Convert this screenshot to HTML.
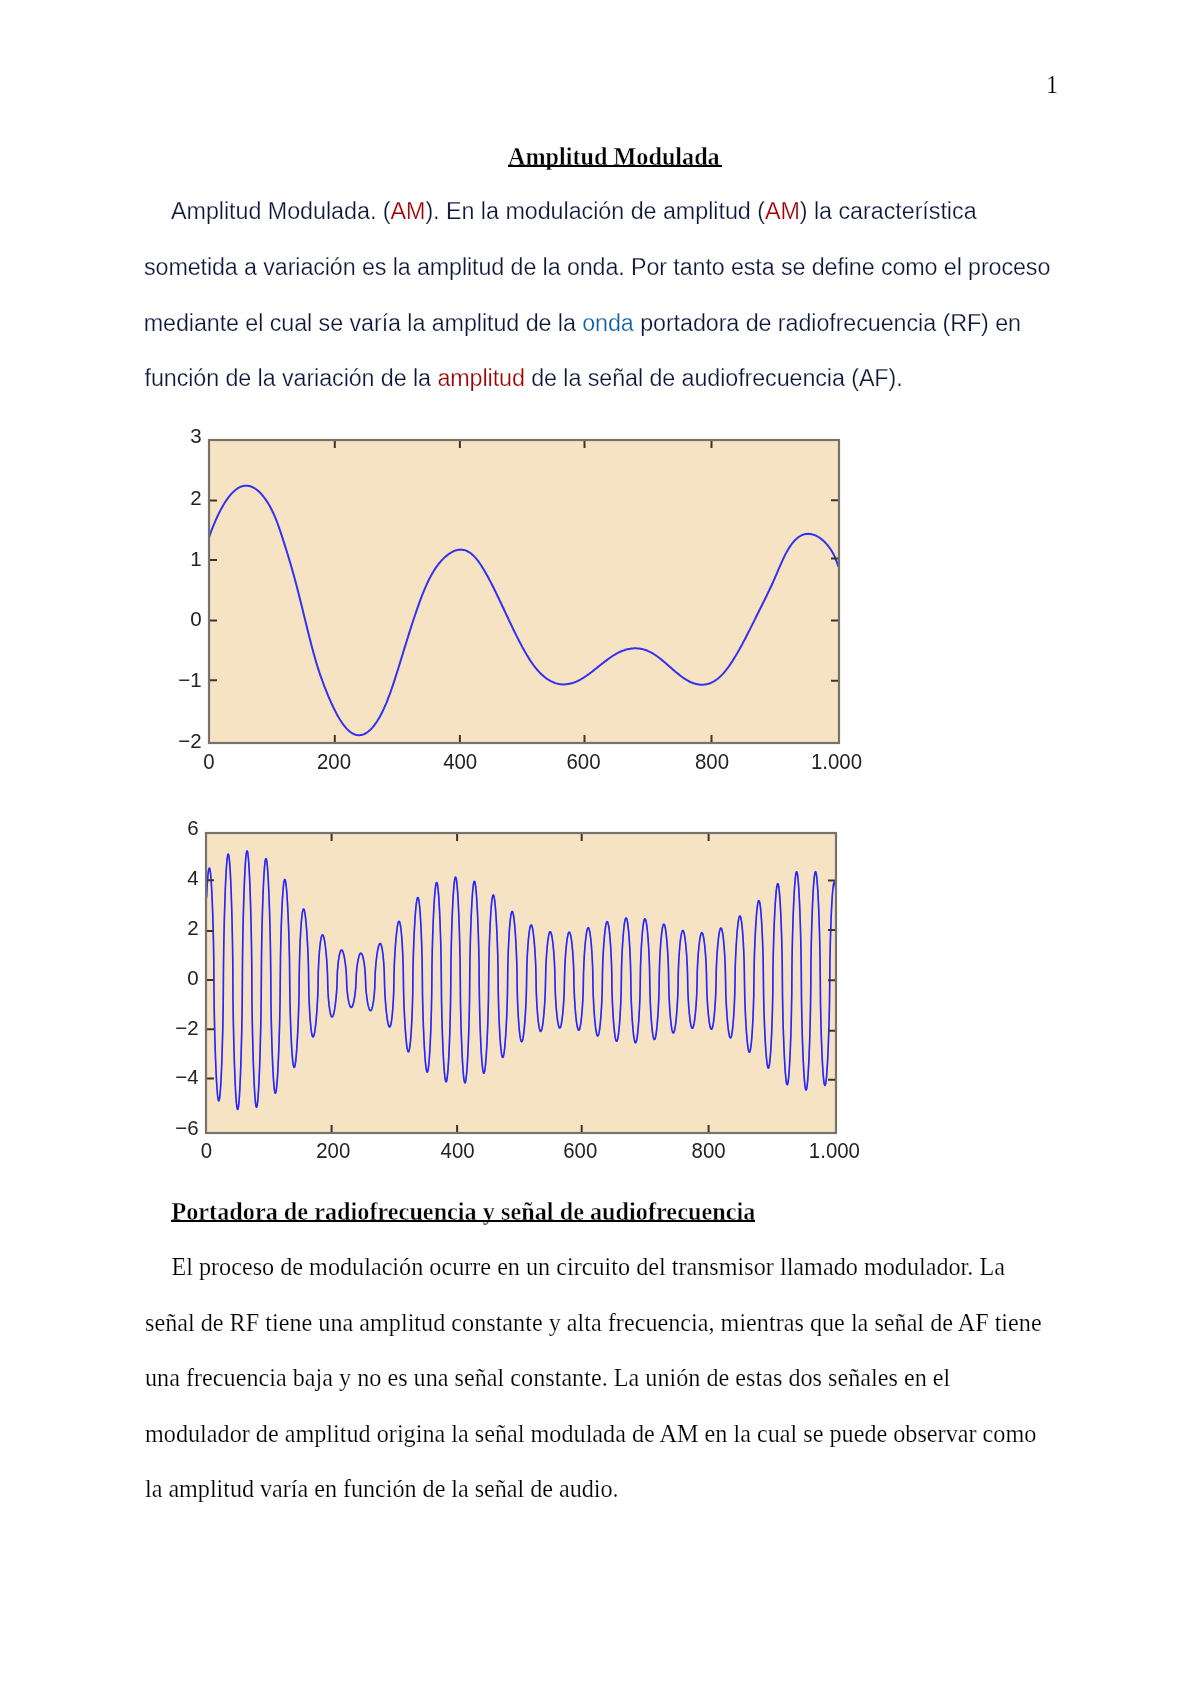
<!DOCTYPE html>
<html lang="es"><head><meta charset="utf-8"><title>Amplitud Modulada</title>
<style>
html,body{margin:0;padding:0;background:#fff;}
body{width:1200px;height:1698px;position:relative;overflow:hidden;}
.ov{position:absolute;left:0;top:0;}
.s,.m,.hd,.tt,.pn{position:absolute;white-space:pre;line-height:30px;}
#pg{position:absolute;left:0;top:0;width:1200px;height:1698px;will-change:transform;}
.s{-webkit-text-stroke:0.25px #fff;font-family:"Liberation Sans",Arial,sans-serif;font-size:23.3px;color:#0c1639;}
.m,.pn{-webkit-text-stroke:0.2px #fff;font-family:"Liberation Serif","Times New Roman",serif;font-size:24.2px;color:#000;}
.hd,.tt{-webkit-text-stroke:0.4px #fff;font-family:"Liberation Serif","Times New Roman",serif;font-size:24.2px;font-weight:bold;color:#000;}
.r{color:#9c0000;}
.b{color:#0e5f9c;}
.ul{position:absolute;background:#000;}
</style></head><body>
<div id="pg">
<svg class="ov" width="1200" height="1698" viewBox="0 0 1200 1698">
<defs><clipPath id="c1"><rect x="209" y="440" width="630" height="303"/></clipPath><clipPath id="c2"><rect x="206" y="833" width="630" height="300"/></clipPath></defs>
<rect x="209" y="440" width="630" height="303" fill="#f6e3c4"/>
<path clip-path="url(#c1)" d="M208.4,538.9L209.4,536.1 210.4,533.4 211.4,530.7 212.4,528.2 213.4,525.7 214.4,523.3 215.4,520.9 216.4,518.7 217.4,516.5 218.4,514.4 219.4,512.4 220.4,510.4 221.4,508.5 222.4,506.7 223.4,505.0 224.4,503.3 225.4,501.7 226.4,500.2 227.4,498.8 228.4,497.4 229.4,496.2 230.4,494.9 231.4,493.8 232.4,492.7 233.4,491.8 234.4,490.9 235.4,490.0 236.4,489.3 237.4,488.6 238.4,487.9 239.4,487.4 240.4,486.9 241.4,486.5 242.4,486.2 243.4,486.0 244.4,485.8 245.4,485.7 246.4,485.7 247.4,485.7 248.4,485.9 249.4,486.1 250.4,486.3 251.4,486.7 252.4,487.1 253.4,487.6 254.4,488.1 255.4,488.8 256.4,489.5 257.4,490.3 258.4,491.1 259.4,492.0 260.4,493.0 261.4,494.1 262.4,495.3 263.4,496.5 264.4,497.8 265.4,499.1 266.4,500.6 267.4,502.1 268.4,503.7 269.4,505.4 270.4,507.3 271.4,509.2 272.4,511.2 273.4,513.3 274.4,515.6 275.4,517.9 276.4,520.4 277.4,523.0 278.4,525.8 279.4,528.6 280.4,531.5 281.4,534.6 282.4,537.6 283.4,540.8 284.4,543.9 285.4,547.1 286.4,550.3 287.4,553.5 288.4,556.8 289.4,560.1 290.4,563.5 291.4,566.9 292.4,570.4 293.4,574.0 294.4,577.6 295.4,581.2 296.4,585.0 297.4,588.8 298.4,592.7 299.4,596.7 300.4,600.7 301.4,604.7 302.4,608.8 303.4,612.9 304.4,617.0 305.4,621.1 306.4,625.1 307.4,629.2 308.4,633.2 309.4,637.2 310.4,641.1 311.4,645.0 312.4,648.8 313.4,652.5 314.4,656.1 315.4,659.6 316.4,663.0 317.4,666.3 318.4,669.4 319.4,672.5 320.4,675.4 321.4,678.2 322.4,681.0 323.4,683.7 324.4,686.3 325.4,688.9 326.4,691.4 327.4,693.9 328.4,696.3 329.4,698.6 330.4,700.9 331.4,703.2 332.4,705.3 333.4,707.4 334.4,709.5 335.4,711.4 336.4,713.4 337.4,715.2 338.4,717.0 339.4,718.7 340.4,720.3 341.4,721.8 342.4,723.3 343.4,724.7 344.4,726.0 345.4,727.2 346.4,728.3 347.4,729.4 348.4,730.4 349.4,731.2 350.4,732.0 351.4,732.7 352.4,733.3 353.4,733.9 354.4,734.3 355.4,734.7 356.4,734.9 357.4,735.1 358.4,735.2 359.4,735.2 360.4,735.1 361.4,735.0 362.4,734.7 363.4,734.4 364.4,734.0 365.4,733.5 366.4,732.9 367.4,732.2 368.4,731.5 369.4,730.6 370.4,729.7 371.4,728.7 372.4,727.6 373.4,726.4 374.4,725.1 375.4,723.7 376.4,722.3 377.4,720.8 378.4,719.1 379.4,717.4 380.4,715.6 381.4,713.7 382.4,711.7 383.4,709.6 384.4,707.4 385.4,705.1 386.4,702.8 387.4,700.3 388.4,697.7 389.4,695.1 390.4,692.3 391.4,689.5 392.4,686.6 393.4,683.6 394.4,680.6 395.4,677.5 396.4,674.3 397.4,671.2 398.4,668.0 399.4,664.7 400.4,661.5 401.4,658.2 402.4,655.0 403.4,651.7 404.4,648.4 405.4,645.2 406.4,642.0 407.4,638.8 408.4,635.6 409.4,632.4 410.4,629.2 411.4,626.1 412.4,623.0 413.4,620.0 414.4,617.0 415.4,614.0 416.4,611.1 417.4,608.2 418.4,605.4 419.4,602.6 420.4,599.9 421.4,597.2 422.4,594.7 423.4,592.2 424.4,589.7 425.4,587.4 426.4,585.1 427.4,582.9 428.4,580.8 429.4,578.8 430.4,576.9 431.4,575.0 432.4,573.2 433.4,571.6 434.4,569.9 435.4,568.4 436.4,566.9 437.4,565.6 438.4,564.2 439.4,563.0 440.4,561.8 441.4,560.7 442.4,559.6 443.4,558.6 444.4,557.6 445.4,556.7 446.4,555.9 447.4,555.1 448.4,554.3 449.4,553.6 450.4,553.0 451.4,552.4 452.4,551.8 453.4,551.3 454.4,550.9 455.4,550.5 456.4,550.2 457.4,550.0 458.4,549.8 459.4,549.7 460.4,549.6 461.4,549.7 462.4,549.7 463.4,549.9 464.4,550.1 465.4,550.4 466.4,550.8 467.4,551.2 468.4,551.8 469.4,552.4 470.4,553.0 471.4,553.8 472.4,554.7 473.4,555.6 474.4,556.6 475.4,557.7 476.4,558.9 477.4,560.1 478.4,561.4 479.4,562.8 480.4,564.3 481.4,565.8 482.4,567.4 483.4,569.0 484.4,570.7 485.4,572.4 486.4,574.2 487.4,576.0 488.4,577.8 489.4,579.7 490.4,581.6 491.4,583.5 492.4,585.5 493.4,587.5 494.4,589.5 495.4,591.5 496.4,593.6 497.4,595.7 498.4,597.8 499.4,599.8 500.4,602.0 501.4,604.1 502.4,606.2 503.4,608.3 504.4,610.5 505.4,612.6 506.4,614.7 507.4,616.8 508.4,619.0 509.4,621.1 510.4,623.2 511.4,625.3 512.4,627.4 513.4,629.5 514.4,631.5 515.4,633.6 516.4,635.6 517.4,637.6 518.4,639.5 519.4,641.5 520.4,643.4 521.4,645.3 522.4,647.2 523.4,649.0 524.4,650.8 525.4,652.5 526.4,654.2 527.4,655.9 528.4,657.5 529.4,659.1 530.4,660.7 531.4,662.2 532.4,663.6 533.4,665.0 534.4,666.3 535.4,667.6 536.4,668.8 537.4,670.0 538.4,671.1 539.4,672.2 540.4,673.2 541.4,674.2 542.4,675.1 543.4,676.0 544.4,676.9 545.4,677.7 546.4,678.4 547.4,679.1 548.4,679.7 549.4,680.3 550.4,680.9 551.4,681.4 552.4,681.9 553.4,682.3 554.4,682.7 555.4,683.1 556.4,683.4 557.4,683.6 558.4,683.9 559.4,684.1 560.4,684.2 561.4,684.3 562.4,684.4 563.4,684.4 564.4,684.4 565.4,684.3 566.4,684.3 567.4,684.1 568.4,684.0 569.4,683.8 570.4,683.6 571.4,683.3 572.4,683.0 573.4,682.7 574.4,682.4 575.4,682.0 576.4,681.6 577.4,681.1 578.4,680.6 579.4,680.1 580.4,679.6 581.4,679.0 582.4,678.4 583.4,677.8 584.4,677.2 585.4,676.5 586.4,675.8 587.4,675.1 588.4,674.4 589.4,673.7 590.4,672.9 591.4,672.2 592.4,671.4 593.4,670.6 594.4,669.8 595.4,669.0 596.4,668.2 597.4,667.4 598.4,666.6 599.4,665.8 600.4,665.0 601.4,664.2 602.4,663.4 603.4,662.7 604.4,661.9 605.4,661.1 606.4,660.4 607.4,659.6 608.4,658.9 609.4,658.2 610.4,657.5 611.4,656.8 612.4,656.1 613.4,655.5 614.4,654.9 615.4,654.3 616.4,653.7 617.4,653.2 618.4,652.7 619.4,652.2 620.4,651.7 621.4,651.3 622.4,650.9 623.4,650.5 624.4,650.2 625.4,649.8 626.4,649.6 627.4,649.3 628.4,649.1 629.4,648.9 630.4,648.7 631.4,648.6 632.4,648.5 633.4,648.4 634.4,648.3 635.4,648.3 636.4,648.3 637.4,648.4 638.4,648.5 639.4,648.6 640.4,648.7 641.4,648.9 642.4,649.1 643.4,649.4 644.4,649.7 645.4,650.0 646.4,650.3 647.4,650.7 648.4,651.2 649.4,651.6 650.4,652.1 651.4,652.6 652.4,653.2 653.4,653.8 654.4,654.5 655.4,655.1 656.4,655.8 657.4,656.5 658.4,657.3 659.4,658.0 660.4,658.8 661.4,659.6 662.4,660.4 663.4,661.3 664.4,662.1 665.4,663.0 666.4,663.8 667.4,664.7 668.4,665.6 669.4,666.5 670.4,667.3 671.4,668.2 672.4,669.1 673.4,669.9 674.4,670.8 675.4,671.7 676.4,672.5 677.4,673.3 678.4,674.1 679.4,674.9 680.4,675.7 681.4,676.5 682.4,677.2 683.4,677.9 684.4,678.6 685.4,679.2 686.4,679.8 687.4,680.4 688.4,681.0 689.4,681.5 690.4,682.0 691.4,682.4 692.4,682.8 693.4,683.2 694.4,683.5 695.4,683.8 696.4,684.1 697.4,684.3 698.4,684.5 699.4,684.6 700.4,684.7 701.4,684.8 702.4,684.8 703.4,684.7 704.4,684.6 705.4,684.5 706.4,684.3 707.4,684.1 708.4,683.8 709.4,683.5 710.4,683.1 711.4,682.7 712.4,682.2 713.4,681.7 714.4,681.1 715.4,680.4 716.4,679.7 717.4,679.0 718.4,678.2 719.4,677.3 720.4,676.4 721.4,675.4 722.4,674.4 723.4,673.3 724.4,672.1 725.4,670.9 726.4,669.7 727.4,668.4 728.4,667.0 729.4,665.6 730.4,664.1 731.4,662.7 732.4,661.1 733.4,659.5 734.4,657.9 735.4,656.3 736.4,654.6 737.4,652.9 738.4,651.1 739.4,649.4 740.4,647.6 741.4,645.7 742.4,643.9 743.4,642.0 744.4,640.1 745.4,638.2 746.4,636.3 747.4,634.3 748.4,632.3 749.4,630.4 750.4,628.4 751.4,626.4 752.4,624.4 753.4,622.4 754.4,620.4 755.4,618.4 756.4,616.3 757.4,614.3 758.4,612.3 759.4,610.3 760.4,608.3 761.4,606.3 762.4,604.3 763.4,602.3 764.4,600.3 765.4,598.2 766.4,596.2 767.4,594.1 768.4,592.0 769.4,589.9 770.4,587.8 771.4,585.7 772.4,583.5 773.4,581.3 774.4,579.0 775.4,576.7 776.4,574.4 777.4,572.1 778.4,569.7 779.4,567.4 780.4,565.1 781.4,562.9 782.4,560.6 783.4,558.5 784.4,556.4 785.4,554.4 786.4,552.5 787.4,550.7 788.4,549.0 789.4,547.4 790.4,545.9 791.4,544.5 792.4,543.2 793.4,542.0 794.4,540.8 795.4,539.8 796.4,538.9 797.4,538.0 798.4,537.2 799.4,536.6 800.4,536.0 801.4,535.4 802.4,535.0 803.4,534.6 804.4,534.3 805.4,534.1 806.4,533.9 807.4,533.9 808.4,533.8 809.4,533.9 810.4,534.0 811.4,534.2 812.4,534.4 813.4,534.7 814.4,535.0 815.4,535.4 816.4,535.9 817.4,536.4 818.4,537.0 819.4,537.6 820.4,538.3 821.4,539.1 822.4,539.9 823.4,540.8 824.4,541.8 825.4,542.8 826.4,543.9 827.4,545.0 828.4,546.3 829.4,547.6 830.4,549.0 831.4,550.5 832.4,552.2 833.4,554.0 834.4,556.0 835.4,558.3 836.4,560.8 837.4,563.6 838.4,566.6" fill="none" stroke="#3232f0" stroke-width="2" stroke-linejoin="round"/>
<path d="M334.8,440v8M334.8,743v-8M459.9,440v8M459.9,743v-8M584.5,440v8M584.5,743v-8M711.5,440v8M711.5,743v-8M209,500.5h8M209,560.1h8M209,620.5h8M209,680.2h8M839,500.2h-8M839,558.5h-8M839,620.6h-8M839,680.8h-8" stroke="#3a3530" stroke-width="2" fill="none"/>
<rect x="209" y="440" width="630" height="303" fill="none" stroke="#77726a" stroke-width="2.2"/>
<rect x="206" y="833" width="630" height="300" fill="#f6e3c4"/>
<path clip-path="url(#c2)" d="M206.5,897.9L206.8,892.9 207.0,888.3 207.2,884.2 207.5,880.6 207.8,877.5 208.0,874.8 208.2,872.5 208.5,870.8 208.8,869.4 209.0,868.6 209.2,868.2 209.5,868.2 209.8,868.8 210.0,869.8 210.2,871.3 210.5,873.2 210.8,875.7 211.0,878.7 211.2,882.1 211.5,886.1 211.8,890.7 212.0,895.8 212.2,901.6 212.5,908.0 212.8,915.3 213.0,923.4 213.2,932.8 213.5,943.9 213.8,958.3 214.0,991.8 214.2,1010.3 214.5,1023.0 214.8,1033.4 215.0,1042.4 215.2,1050.5 215.5,1057.7 215.8,1064.3 216.0,1070.2 216.2,1075.6 216.5,1080.4 216.8,1084.7 217.0,1088.5 217.2,1091.7 217.5,1094.5 217.8,1096.8 218.0,1098.5 218.2,1099.8 218.5,1100.6 218.8,1100.9 219.0,1100.7 219.2,1099.9 219.5,1098.7 219.8,1097.0 220.0,1094.7 220.2,1092.0 220.5,1088.6 220.8,1084.8 221.0,1080.4 221.2,1075.4 221.5,1069.8 221.8,1063.5 222.0,1056.5 222.2,1048.6 222.5,1039.8 222.8,1029.7 223.0,1017.6 223.2,1001.6 223.5,965.4 223.8,946.9 224.0,933.9 224.2,923.1 224.5,913.7 224.8,905.3 225.0,897.8 225.2,891.0 225.5,884.9 225.8,879.3 226.0,874.4 226.2,870.0 226.5,866.2 226.8,862.9 227.0,860.1 227.2,857.8 227.5,856.1 227.8,854.9 228.0,854.2 228.2,854.1 228.5,854.4 228.8,855.3 229.0,856.7 229.2,858.7 229.5,861.2 229.8,864.2 230.0,867.8 230.2,871.9 230.5,876.6 230.8,882.0 231.0,887.9 231.2,894.6 231.5,902.0 231.8,910.3 232.0,919.6 232.2,930.3 232.5,943.2 232.8,960.5 233.0,998.3 233.2,1016.3 233.5,1029.5 233.8,1040.4 234.0,1050.0 234.2,1058.5 234.5,1066.1 234.8,1073.0 235.0,1079.2 235.2,1084.7 235.5,1089.7 235.8,1094.1 236.0,1097.9 236.2,1101.2 236.5,1103.9 236.8,1106.1 237.0,1107.7 237.2,1108.8 237.5,1109.4 237.8,1109.4 238.0,1108.9 238.2,1107.9 238.5,1106.3 238.8,1104.2 239.0,1101.5 239.2,1098.3 239.5,1094.5 239.8,1090.2 240.0,1085.3 240.2,1079.7 240.5,1073.5 240.8,1066.6 241.0,1059.0 241.2,1050.4 241.5,1040.8 241.8,1029.7 242.0,1016.4 242.2,998.0 242.5,959.7 242.8,942.3 243.0,929.3 243.2,918.5 243.5,909.0 243.8,900.6 244.0,893.0 244.2,886.2 244.5,880.1 244.8,874.6 245.0,869.7 245.2,865.4 245.5,861.7 245.8,858.6 246.0,856.0 246.2,853.9 246.5,852.4 246.8,851.4 247.0,851.0 247.2,851.1 247.5,851.7 247.8,852.8 248.0,854.5 248.2,856.8 248.5,859.6 248.8,862.9 249.0,866.8 249.2,871.2 249.5,876.3 249.8,881.9 250.0,888.2 250.2,895.2 250.5,902.9 250.8,911.6 251.0,921.3 251.2,932.5 251.5,946.1 251.8,965.4 252.0,1002.9 252.2,1019.4 252.5,1031.9 252.8,1042.5 253.0,1051.7 253.2,1059.9 253.5,1067.2 253.8,1073.8 254.0,1079.8 254.2,1085.0 254.5,1089.7 254.8,1093.8 255.0,1097.3 255.2,1100.3 255.5,1102.8 255.8,1104.7 256.0,1106.0 256.2,1106.9 256.5,1107.2 256.8,1107.0 257.0,1106.2 257.2,1104.9 257.5,1103.2 257.8,1100.8 258.0,1098.0 258.2,1094.6 258.5,1090.7 258.8,1086.2 259.0,1081.2 259.2,1075.6 259.5,1069.3 259.8,1062.4 260.0,1054.8 260.2,1046.2 260.5,1036.6 260.8,1025.5 261.0,1011.9 261.2,991.8 261.5,956.4 261.8,941.0 262.0,929.2 262.2,919.1 262.5,910.4 262.8,902.6 263.0,895.6 263.2,889.4 263.5,883.8 263.8,878.8 264.0,874.4 264.2,870.6 264.5,867.3 264.8,864.6 265.0,862.4 265.2,860.7 265.5,859.5 265.8,858.8 266.0,858.6 266.2,859.0 266.5,859.8 266.8,861.2 267.0,863.0 267.2,865.4 267.5,868.2 267.8,871.6 268.0,875.4 268.2,879.8 268.5,884.8 268.8,890.2 269.0,896.3 269.2,903.0 269.5,910.4 269.8,918.7 270.0,928.0 270.2,938.7 270.5,951.9 270.8,972.7 271.0,1004.7 271.2,1018.6 271.5,1029.6 271.8,1038.8 272.0,1046.9 272.2,1054.1 272.5,1060.5 272.8,1066.2 273.0,1071.3 273.2,1075.8 273.5,1079.8 273.8,1083.2 274.0,1086.1 274.2,1088.5 274.5,1090.4 274.8,1091.8 275.0,1092.7 275.2,1093.2 275.5,1093.1 275.8,1092.6 276.0,1091.7 276.2,1090.3 276.5,1088.4 276.8,1086.1 277.0,1083.3 277.2,1080.0 277.5,1076.3 277.8,1072.1 278.0,1067.4 278.2,1062.3 278.5,1056.6 278.8,1050.3 279.0,1043.3 279.2,1035.7 279.5,1027.0 279.8,1017.0 280.0,1004.7 280.2,982.6 280.5,956.7 280.8,944.4 281.0,934.8 281.2,926.6 281.5,919.4 281.8,913.1 282.0,907.4 282.2,902.4 282.5,897.9 282.8,894.0 283.0,890.6 283.2,887.7 283.5,885.2 283.8,883.2 284.0,881.6 284.2,880.5 284.5,879.7 284.8,879.5 285.0,879.6 285.2,880.2 285.5,881.1 285.8,882.5 286.0,884.3 286.2,886.5 286.5,889.1 286.8,892.1 287.0,895.5 287.2,899.3 287.5,903.6 287.8,908.3 288.0,913.4 288.2,919.1 288.5,925.3 288.8,932.2 289.0,940.0 289.2,949.0 289.5,960.2 289.8,985.1 290.0,1002.3 290.2,1012.7 290.5,1021.0 290.8,1028.1 291.0,1034.2 291.2,1039.6 291.5,1044.5 291.8,1048.7 292.0,1052.5 292.2,1055.8 292.5,1058.6 292.8,1061.1 293.0,1063.1 293.2,1064.7 293.5,1065.9 293.8,1066.8 294.0,1067.3 294.2,1067.3 294.5,1067.1 294.8,1066.5 295.0,1065.5 295.2,1064.1 295.5,1062.5 295.8,1060.4 296.0,1058.1 296.2,1055.4 296.5,1052.3 296.8,1048.9 297.0,1045.2 297.2,1041.1 297.5,1036.6 297.8,1031.7 298.0,1026.3 298.2,1020.3 298.5,1013.6 298.8,1005.8 299.0,996.0 299.2,973.8 299.5,960.8 299.8,952.3 300.0,945.6 300.2,939.8 300.5,934.8 300.8,930.4 301.0,926.5 301.2,923.1 301.5,920.1 301.8,917.5 302.0,915.3 302.2,913.4 302.5,911.9 302.8,910.7 303.0,909.8 303.2,909.2 303.5,909.0 303.8,909.0 304.0,909.3 304.2,910.0 304.5,910.9 304.8,912.1 305.0,913.6 305.2,915.3 305.5,917.3 305.8,919.6 306.0,922.2 306.2,925.0 306.5,928.2 306.8,931.6 307.0,935.3 307.2,939.3 307.5,943.8 307.8,948.7 308.0,954.1 308.2,960.5 308.5,968.7 308.8,987.1 309.0,996.7 309.2,1003.3 309.5,1008.6 309.8,1013.1 310.0,1017.0 310.2,1020.4 310.5,1023.5 310.8,1026.1 311.0,1028.4 311.2,1030.5 311.5,1032.2 311.8,1033.6 312.0,1034.8 312.2,1035.7 312.5,1036.4 312.8,1036.8 313.0,1036.9 313.2,1036.9 313.5,1036.5 313.8,1036.0 314.0,1035.3 314.2,1034.3 314.5,1033.1 314.8,1031.7 315.0,1030.0 315.2,1028.2 315.5,1026.2 315.8,1023.9 316.0,1021.4 316.2,1018.7 316.5,1015.7 316.8,1012.5 317.0,1008.9 317.2,1005.0 317.5,1000.6 317.8,995.4 318.0,988.7 318.2,973.8 318.5,966.6 318.8,961.5 319.0,957.4 319.2,953.8 319.5,950.7 319.8,948.0 320.0,945.6 320.2,943.5 320.5,941.6 320.8,940.0 321.0,938.7 321.2,937.5 321.5,936.6 321.8,935.8 322.0,935.3 322.2,935.0 322.5,934.9 322.8,934.9 323.0,935.2 323.2,935.6 323.5,936.2 323.8,937.0 324.0,938.0 324.2,939.1 324.5,940.4 324.8,941.9 325.0,943.6 325.2,945.4 325.5,947.5 325.8,949.7 326.0,952.1 326.2,954.7 326.5,957.6 326.8,960.7 327.0,964.3 327.2,968.6 327.5,974.3 327.8,986.3 328.0,991.8 328.2,995.8 328.5,999.1 328.8,1001.9 329.0,1004.4 329.2,1006.5 329.5,1008.4 329.8,1010.1 330.0,1011.6 330.2,1012.9 330.5,1014.0 330.8,1014.9 331.0,1015.6 331.2,1016.2 331.5,1016.6 331.8,1016.9 332.0,1016.9 332.2,1016.9 332.5,1016.7 332.8,1016.3 333.0,1015.8 333.2,1015.2 333.5,1014.4 333.8,1013.5 334.0,1012.4 334.2,1011.2 334.5,1009.9 334.8,1008.4 335.0,1006.7 335.2,1004.9 335.5,1003.0 335.8,1000.8 336.0,998.5 336.2,995.9 336.5,992.9 336.8,989.4 337.0,984.6 337.2,974.8 337.5,970.5 337.8,967.4 338.0,964.7 338.2,962.4 338.5,960.4 338.8,958.7 339.0,957.1 339.2,955.7 339.5,954.5 339.8,953.4 340.0,952.5 340.2,951.8 340.5,951.1 340.8,950.6 341.0,950.3 341.2,950.1 341.5,950.0 341.8,950.0 342.0,950.1 342.2,950.4 342.5,950.8 342.8,951.3 343.0,951.9 343.2,952.7 343.5,953.5 343.8,954.5 344.0,955.6 344.2,956.8 344.5,958.2 344.8,959.7 345.0,961.3 345.2,963.1 345.5,965.1 345.8,967.3 346.0,969.8 346.2,972.9 346.5,977.3 346.8,985.4 347.0,989.0 347.2,991.7 347.5,994.0 347.8,995.9 348.0,997.7 348.2,999.2 348.5,1000.6 348.8,1001.9 349.0,1003.0 349.2,1003.9 349.5,1004.8 349.8,1005.5 350.0,1006.1 350.2,1006.6 350.5,1007.0 350.8,1007.2 351.0,1007.4 351.2,1007.4 351.5,1007.3 351.8,1007.2 352.0,1006.9 352.2,1006.5 352.5,1006.0 352.8,1005.3 353.0,1004.6 353.2,1003.8 353.5,1002.8 353.8,1001.8 354.0,1000.6 354.2,999.2 354.5,997.8 354.8,996.1 355.0,994.3 355.2,992.2 355.5,989.9 355.8,986.9 356.0,982.5 356.2,975.0 356.5,971.8 356.8,969.2 357.0,967.0 357.2,965.1 357.5,963.4 357.8,961.9 358.0,960.5 358.2,959.3 358.5,958.2 358.8,957.2 359.0,956.3 359.2,955.5 359.5,954.8 359.8,954.3 360.0,953.9 360.2,953.5 360.5,953.3 360.8,953.2 361.0,953.2 361.2,953.3 361.5,953.5 361.8,953.8 362.0,954.3 362.2,954.9 362.5,955.5 362.8,956.3 363.0,957.2 363.2,958.3 363.5,959.5 363.8,960.8 364.0,962.3 364.2,964.0 364.5,965.9 364.8,968.0 365.0,970.5 365.2,973.7 365.5,978.9 365.8,986.3 366.0,989.7 366.2,992.4 366.5,994.7 366.8,996.8 367.0,998.7 367.2,1000.3 367.5,1001.9 367.8,1003.3 368.0,1004.6 368.2,1005.7 368.5,1006.7 368.8,1007.6 369.0,1008.4 369.2,1009.1 369.5,1009.6 369.8,1010.1 370.0,1010.4 370.2,1010.6 370.5,1010.6 370.8,1010.6 371.0,1010.4 371.2,1010.1 371.5,1009.7 371.8,1009.1 372.0,1008.4 372.2,1007.5 372.5,1006.5 372.8,1005.4 373.0,1004.0 373.2,1002.5 373.5,1000.9 373.8,998.9 374.0,996.8 374.2,994.3 374.5,991.3 374.8,987.6 375.0,979.6 375.2,972.8 375.5,968.9 375.8,965.8 376.0,963.0 376.2,960.6 376.5,958.4 376.8,956.3 377.0,954.5 377.2,952.8 377.5,951.2 377.8,949.8 378.0,948.6 378.2,947.4 378.5,946.4 378.8,945.6 379.0,944.9 379.2,944.3 379.5,943.9 379.8,943.6 380.0,943.5 380.2,943.5 380.5,943.7 380.8,944.0 381.0,944.5 381.2,945.2 381.5,946.0 381.8,947.0 382.0,948.2 382.2,949.6 382.5,951.2 382.8,953.1 383.0,955.1 383.2,957.5 383.5,960.2 383.8,963.3 384.0,967.0 384.2,971.8 384.5,982.9 384.8,990.3 385.0,995.0 385.2,998.8 385.5,1002.2 385.8,1005.3 386.0,1008.1 386.2,1010.6 386.5,1013.0 386.8,1015.1 387.0,1017.1 387.2,1018.9 387.5,1020.5 387.8,1021.9 388.0,1023.2 388.2,1024.3 388.5,1025.2 388.8,1025.9 389.0,1026.5 389.2,1026.8 389.5,1027.0 389.8,1027.0 390.0,1026.8 390.2,1026.3 390.5,1025.7 390.8,1024.9 391.0,1023.8 391.2,1022.5 391.5,1021.0 391.8,1019.2 392.0,1017.1 392.2,1014.7 392.5,1012.1 392.8,1009.0 393.0,1005.6 393.2,1001.5 393.5,996.7 393.8,990.3 394.0,975.4 394.2,966.9 394.5,961.1 394.8,956.2 395.0,951.9 395.2,948.1 395.5,944.6 395.8,941.4 396.0,938.5 396.2,935.8 396.5,933.3 396.8,931.1 397.0,929.1 397.2,927.3 397.5,925.7 397.8,924.4 398.0,923.3 398.2,922.5 398.5,921.8 398.8,921.4 399.0,921.3 399.2,921.4 399.5,921.8 399.8,922.4 400.0,923.2 400.2,924.4 400.5,925.8 400.8,927.5 401.0,929.5 401.2,931.9 401.5,934.5 401.8,937.6 402.0,941.0 402.2,944.9 402.5,949.3 402.8,954.4 403.0,960.6 403.2,968.9 403.5,987.9 403.8,997.8 404.0,1004.8 404.2,1010.7 404.5,1015.8 404.8,1020.5 405.0,1024.7 405.2,1028.6 405.5,1032.1 405.8,1035.3 406.0,1038.2 406.2,1040.8 406.5,1043.2 406.8,1045.3 407.0,1047.1 407.2,1048.6 407.5,1049.8 407.8,1050.7 408.0,1051.4 408.2,1051.7 408.5,1051.8 408.8,1051.5 409.0,1051.0 409.2,1050.1 409.5,1049.0 409.8,1047.4 410.0,1045.6 410.2,1043.4 410.5,1040.9 410.8,1038.0 411.0,1034.7 411.2,1031.0 411.5,1026.8 411.8,1022.0 412.0,1016.6 412.2,1010.4 412.5,1002.8 412.8,992.6 413.0,969.7 413.2,958.7 413.5,950.6 413.8,943.8 414.0,937.8 414.2,932.4 414.5,927.6 414.8,923.1 415.0,919.1 415.2,915.4 415.5,912.1 415.8,909.2 416.0,906.5 416.2,904.2 416.5,902.3 416.8,900.7 417.0,899.4 417.2,898.4 417.5,897.8 417.8,897.5 418.0,897.6 418.2,898.0 418.5,898.8 418.8,899.9 419.0,901.4 419.2,903.2 419.5,905.5 419.8,908.1 420.0,911.1 420.2,914.6 420.5,918.5 420.8,922.9 421.0,927.8 421.2,933.3 421.5,939.6 421.8,946.9 422.0,955.8 422.2,968.0 422.5,993.9 422.8,1005.8 423.0,1014.8 423.2,1022.3 423.5,1028.9 423.8,1034.8 424.0,1040.2 424.2,1045.1 424.5,1049.5 424.8,1053.4 425.0,1057.0 425.2,1060.2 425.5,1063.0 425.8,1065.4 426.0,1067.5 426.2,1069.1 426.5,1070.4 426.8,1071.4 427.0,1071.9 427.2,1072.1 427.5,1071.8 427.8,1071.2 428.0,1070.3 428.2,1068.9 428.5,1067.1 428.8,1064.9 429.0,1062.3 429.2,1059.3 429.5,1055.8 429.8,1051.9 430.0,1047.5 430.2,1042.6 430.5,1037.0 430.8,1030.9 431.0,1023.8 431.2,1015.7 431.5,1005.8 431.8,991.8 432.0,963.9 432.2,951.5 432.5,942.1 432.8,934.1 433.0,927.1 433.2,920.8 433.5,915.1 433.8,910.0 434.0,905.4 434.2,901.2 434.5,897.5 434.8,894.2 435.0,891.3 435.2,888.9 435.5,886.8 435.8,885.1 436.0,883.9 436.2,883.0 436.5,882.6 436.8,882.5 437.0,882.9 437.2,883.7 437.5,884.8 437.8,886.4 438.0,888.4 438.2,890.9 438.5,893.8 438.8,897.1 439.0,900.9 439.2,905.1 439.5,909.9 439.8,915.2 440.0,921.1 440.2,927.8 440.5,935.3 440.8,944.0 441.0,954.7 441.2,970.5 441.5,999.1 441.8,1011.6 442.0,1021.3 442.2,1029.5 442.5,1036.7 442.8,1043.2 443.0,1049.0 443.2,1054.3 443.5,1059.0 443.8,1063.2 444.0,1067.0 444.2,1070.4 444.5,1073.3 444.8,1075.7 445.0,1077.8 445.2,1079.4 445.5,1080.6 445.8,1081.4 446.0,1081.7 446.2,1081.7 446.5,1081.2 446.8,1080.3 447.0,1079.0 447.2,1077.3 447.5,1075.1 447.8,1072.5 448.0,1069.4 448.2,1065.9 448.5,1061.9 448.8,1057.4 449.0,1052.4 449.2,1046.8 449.5,1040.6 449.8,1033.6 450.0,1025.7 450.2,1016.6 450.5,1005.3 450.8,987.6 451.0,959.4 451.2,947.0 451.5,937.3 451.8,929.0 452.0,921.7 452.2,915.2 452.5,909.4 452.8,904.1 453.0,899.4 453.2,895.1 453.5,891.4 453.8,888.1 454.0,885.2 454.2,882.8 454.5,880.8 454.8,879.2 455.0,878.1 455.2,877.4 455.5,877.1 455.8,877.3 456.0,877.9 456.2,878.9 456.5,880.3 456.8,882.2 457.0,884.5 457.2,887.3 457.5,890.5 457.8,894.1 458.0,898.3 458.2,902.9 458.5,908.1 458.8,913.8 459.0,920.2 459.2,927.3 459.5,935.4 459.8,944.8 460.0,956.6 460.2,976.7 460.5,1002.8 460.8,1014.8 461.0,1024.4 461.2,1032.5 461.5,1039.7 461.8,1046.1 462.0,1051.9 462.2,1057.0 462.5,1061.7 462.8,1065.8 463.0,1069.5 463.2,1072.7 463.5,1075.4 463.8,1077.7 464.0,1079.6 464.2,1081.0 464.5,1082.0 464.8,1082.6 465.0,1082.8 465.2,1082.5 465.5,1081.8 465.8,1080.7 466.0,1079.2 466.2,1077.2 466.5,1074.8 466.8,1072.0 467.0,1068.7 467.2,1064.9 467.5,1060.8 467.8,1056.1 468.0,1050.9 468.2,1045.1 468.5,1038.7 468.8,1031.6 469.0,1023.5 469.2,1014.0 469.5,1002.2 469.8,976.1 470.0,956.8 470.2,945.5 470.5,936.3 470.8,928.5 471.0,921.6 471.2,915.5 471.5,910.0 471.8,905.1 472.0,900.7 472.2,896.7 472.5,893.3 472.8,890.3 473.0,887.8 473.2,885.6 473.5,884.0 473.8,882.7 474.0,881.8 474.2,881.4 474.5,881.4 474.8,881.7 475.0,882.5 475.2,883.7 475.5,885.3 475.8,887.4 476.0,889.8 476.2,892.6 476.5,895.9 476.8,899.6 477.0,903.7 477.2,908.3 477.5,913.4 477.8,919.0 478.0,925.2 478.2,932.1 478.5,940.0 478.8,949.2 479.0,960.9 479.2,987.6 479.5,1003.9 479.8,1014.4 480.0,1022.8 480.2,1030.1 480.5,1036.5 480.8,1042.2 481.0,1047.3 481.2,1051.9 481.5,1055.9 481.8,1059.5 482.0,1062.7 482.2,1065.4 482.5,1067.7 482.8,1069.6 483.0,1071.1 483.2,1072.2 483.5,1072.9 483.8,1073.2 484.0,1073.1 484.2,1072.6 484.5,1071.8 484.8,1070.6 485.0,1069.0 485.2,1067.0 485.5,1064.6 485.8,1061.9 486.0,1058.7 486.2,1055.2 486.5,1051.3 486.8,1046.9 487.0,1042.1 487.2,1036.8 487.5,1030.9 487.8,1024.3 488.0,1016.9 488.2,1008.2 488.5,996.9 488.8,971.2 489.0,957.3 489.2,947.9 489.5,940.2 489.8,933.6 490.0,927.7 490.2,922.6 490.5,917.9 490.8,913.8 491.0,910.2 491.2,906.9 491.5,904.1 491.8,901.7 492.0,899.6 492.2,898.0 492.5,896.7 492.8,895.8 493.0,895.2 493.2,895.0 493.5,895.2 493.8,895.7 494.0,896.5 494.2,897.7 494.5,899.2 494.8,901.1 495.0,903.4 495.2,905.9 495.5,908.9 495.8,912.2 496.0,915.8 496.2,919.9 496.5,924.4 496.8,929.3 497.0,934.7 497.2,940.8 497.5,947.7 497.8,955.8 498.0,966.5 498.2,990.4 498.5,1002.2 498.8,1010.6 499.0,1017.4 499.2,1023.4 499.5,1028.6 499.8,1033.2 500.0,1037.3 500.2,1041.0 500.5,1044.2 500.8,1047.1 501.0,1049.6 501.2,1051.7 501.5,1053.5 501.8,1054.9 502.0,1056.0 502.2,1056.8 502.5,1057.3 502.8,1057.4 503.0,1057.2 503.2,1056.7 503.5,1055.8 503.8,1054.7 504.0,1053.3 504.2,1051.5 504.5,1049.4 504.8,1047.0 505.0,1044.3 505.2,1041.3 505.5,1038.0 505.8,1034.3 506.0,1030.2 506.2,1025.7 506.5,1020.7 506.8,1015.2 507.0,1008.9 507.2,1001.4 507.5,991.4 507.8,969.8 508.0,959.8 508.2,952.4 508.5,946.4 508.8,941.2 509.0,936.6 509.2,932.5 509.5,928.9 509.8,925.6 510.0,922.8 510.2,920.3 510.5,918.1 510.8,916.2 511.0,914.7 511.2,913.4 511.5,912.5 511.8,911.8 512.0,911.5 512.2,911.4 512.5,911.6 512.8,912.1 513.0,912.9 513.2,914.0 513.5,915.3 513.8,916.9 514.0,918.8 514.2,921.0 514.5,923.4 514.8,926.1 515.0,929.2 515.2,932.5 515.5,936.2 515.8,940.3 516.0,944.7 516.2,949.7 516.5,955.4 516.8,962.3 517.0,971.6 517.2,990.8 517.5,999.4 517.8,1005.7 518.0,1011.0 518.2,1015.6 518.5,1019.7 518.8,1023.3 519.0,1026.5 519.2,1029.3 519.5,1031.8 519.8,1034.0 520.0,1035.9 520.2,1037.6 520.5,1038.9 520.8,1040.0 521.0,1040.8 521.2,1041.4 521.5,1041.7 521.8,1041.7 522.0,1041.5 522.2,1041.0 522.5,1040.3 522.8,1039.4 523.0,1038.1 523.2,1036.7 523.5,1035.0 523.8,1033.0 524.0,1030.8 524.2,1028.4 524.5,1025.6 524.8,1022.6 525.0,1019.3 525.2,1015.7 525.5,1011.6 525.8,1007.1 526.0,1001.9 526.2,995.7 526.5,986.8 526.8,969.9 527.0,962.6 527.2,957.0 527.5,952.3 527.8,948.3 528.0,944.7 528.2,941.5 528.5,938.6 528.8,936.1 529.0,933.8 529.2,931.9 529.5,930.2 529.8,928.7 530.0,927.5 530.2,926.5 530.5,925.8 530.8,925.3 531.0,925.0 531.2,925.0 531.5,925.2 531.8,925.6 532.0,926.2 532.2,927.1 532.5,928.2 532.8,929.5 533.0,931.0 533.2,932.8 533.5,934.8 533.8,937.0 534.0,939.5 534.2,942.2 534.5,945.2 534.8,948.5 535.0,952.2 535.2,956.4 535.5,961.1 535.8,966.9 536.0,975.6 536.2,990.6 536.5,997.0 536.8,1002.0 537.0,1006.3 537.2,1009.9 537.5,1013.2 537.8,1016.1 538.0,1018.7 538.2,1021.1 538.5,1023.1 538.8,1024.9 539.0,1026.5 539.2,1027.9 539.5,1029.0 539.8,1029.9 540.0,1030.6 540.2,1031.1 540.5,1031.3 540.8,1031.4 541.0,1031.2 541.2,1030.8 541.5,1030.3 541.8,1029.5 542.0,1028.5 542.2,1027.3 542.5,1025.9 542.8,1024.3 543.0,1022.4 543.2,1020.4 543.5,1018.1 543.8,1015.5 544.0,1012.7 544.2,1009.6 544.5,1006.1 544.8,1002.2 545.0,997.7 545.2,992.2 545.5,983.2 545.8,969.9 546.0,964.1 546.2,959.4 546.5,955.5 546.8,952.1 547.0,949.0 547.2,946.3 547.5,943.8 547.8,941.6 548.0,939.7 548.2,937.9 548.5,936.4 548.8,935.1 549.0,934.1 549.2,933.2 549.5,932.5 549.8,932.0 550.0,931.8 550.2,931.7 550.5,931.8 550.8,932.2 551.0,932.7 551.2,933.4 551.5,934.4 551.8,935.5 552.0,936.8 552.2,938.4 552.5,940.1 552.8,942.1 553.0,944.3 553.2,946.7 553.5,949.4 553.8,952.4 554.0,955.8 554.2,959.6 554.5,964.0 554.8,969.5 555.0,979.9 555.2,991.0 555.5,996.5 555.8,1000.9 556.0,1004.7 556.2,1008.0 556.5,1011.0 556.8,1013.6 557.0,1016.0 557.2,1018.2 557.5,1020.1 557.8,1021.8 558.0,1023.2 558.2,1024.5 558.5,1025.6 558.8,1026.5 559.0,1027.1 559.2,1027.6 559.5,1027.9 559.8,1028.0 560.0,1027.9 560.2,1027.6 560.5,1027.1 560.8,1026.4 561.0,1025.5 561.2,1024.4 561.5,1023.1 561.8,1021.5 562.0,1019.8 562.2,1017.9 562.5,1015.7 562.8,1013.3 563.0,1010.6 563.2,1007.6 563.5,1004.3 563.8,1000.5 564.0,996.0 564.2,990.4 564.5,977.6 564.8,969.0 565.0,963.6 565.2,959.3 565.5,955.6 565.8,952.3 566.0,949.3 566.2,946.7 566.5,944.3 566.8,942.1 567.0,940.2 567.2,938.5 567.5,937.0 567.8,935.7 568.0,934.6 568.2,933.7 568.5,933.0 568.8,932.5 569.0,932.2 569.2,932.1 569.5,932.2 569.8,932.5 570.0,933.0 570.2,933.7 570.5,934.6 570.8,935.7 571.0,937.0 571.2,938.6 571.5,940.3 571.8,942.3 572.0,944.5 572.2,946.9 572.5,949.7 572.8,952.8 573.0,956.2 573.2,960.1 573.5,964.8 573.8,970.7 574.0,984.5 574.2,992.6 574.5,997.9 574.8,1002.3 575.0,1006.1 575.2,1009.4 575.5,1012.4 575.8,1015.2 576.0,1017.6 576.2,1019.8 576.5,1021.8 576.8,1023.6 577.0,1025.1 577.2,1026.5 577.5,1027.6 577.8,1028.5 578.0,1029.3 578.2,1029.8 578.5,1030.1 578.8,1030.2 579.0,1030.1 579.2,1029.8 579.5,1029.3 579.8,1028.6 580.0,1027.6 580.2,1026.5 580.5,1025.1 580.8,1023.6 581.0,1021.7 581.2,1019.7 581.5,1017.4 581.8,1014.8 582.0,1011.9 582.2,1008.7 582.5,1005.1 582.8,1000.9 583.0,996.0 583.2,989.5 583.5,974.6 583.8,966.8 584.0,961.4 584.2,956.8 584.5,952.9 584.8,949.4 585.0,946.3 585.2,943.4 585.5,940.9 585.8,938.6 586.0,936.5 586.2,934.6 586.5,933.0 586.8,931.6 587.0,930.4 587.2,929.5 587.5,928.7 587.8,928.2 588.0,927.8 588.2,927.7 588.5,927.8 588.8,928.2 589.0,928.7 589.2,929.5 589.5,930.5 589.8,931.7 590.0,933.1 590.2,934.8 590.5,936.8 590.8,939.0 591.0,941.4 591.2,944.2 591.5,947.2 591.8,950.7 592.0,954.5 592.2,959.0 592.5,964.3 592.8,971.5 593.0,987.4 593.2,995.2 593.5,1000.9 593.8,1005.6 594.0,1009.7 594.2,1013.3 594.5,1016.6 594.8,1019.6 595.0,1022.3 595.2,1024.7 595.5,1026.9 595.8,1028.8 596.0,1030.5 596.2,1032.0 596.5,1033.2 596.8,1034.2 597.0,1035.0 597.2,1035.5 597.5,1035.9 597.8,1035.9 598.0,1035.8 598.2,1035.4 598.5,1034.8 598.8,1034.0 599.0,1032.9 599.2,1031.6 599.5,1030.0 599.8,1028.2 600.0,1026.1 600.2,1023.8 600.5,1021.2 600.8,1018.2 601.0,1014.9 601.2,1011.2 601.5,1007.1 601.8,1002.3 602.0,996.5 602.2,988.6 602.5,971.7 602.8,963.8 603.0,958.0 603.2,953.1 603.5,948.8 603.8,945.0 604.0,941.6 604.2,938.5 604.5,935.7 604.8,933.2 605.0,930.9 605.2,928.9 605.5,927.2 605.8,925.6 606.0,924.4 606.2,923.4 606.5,922.6 606.8,922.0 607.0,921.7 607.2,921.7 607.5,921.9 607.8,922.3 608.0,923.0 608.2,923.9 608.5,925.1 608.8,926.5 609.0,928.2 609.2,930.2 609.5,932.4 609.8,934.9 610.0,937.7 610.2,940.8 610.5,944.3 610.8,948.3 611.0,952.7 611.2,957.8 611.5,964.0 611.8,972.8 612.0,990.4 612.2,998.2 612.5,1004.2 612.8,1009.2 613.0,1013.6 613.2,1017.6 613.5,1021.1 613.8,1024.3 614.0,1027.2 614.2,1029.7 614.5,1032.1 614.8,1034.1 615.0,1035.9 615.2,1037.4 615.5,1038.7 615.8,1039.7 616.0,1040.4 616.2,1040.9 616.5,1041.2 616.8,1041.2 617.0,1041.0 617.2,1040.5 617.5,1039.7 617.8,1038.7 618.0,1037.4 618.2,1035.9 618.5,1034.1 618.8,1032.0 619.0,1029.7 619.2,1027.0 619.5,1024.0 619.8,1020.7 620.0,1017.1 620.2,1012.9 620.5,1008.3 620.8,1002.9 621.0,996.3 621.2,986.7 621.5,968.9 621.8,961.1 622.0,955.1 622.2,950.0 622.5,945.6 622.8,941.6 623.0,938.0 623.2,934.8 623.5,931.9 623.8,929.3 624.0,927.0 624.2,924.9 624.5,923.2 624.8,921.7 625.0,920.4 625.2,919.4 625.5,918.7 625.8,918.3 626.0,918.0 626.2,918.1 626.5,918.4 626.8,919.0 627.0,919.8 627.2,920.9 627.5,922.2 627.8,923.9 628.0,925.7 628.2,927.9 628.5,930.4 628.8,933.1 629.0,936.2 629.2,939.6 629.5,943.4 629.8,947.6 630.0,952.5 630.2,958.0 630.5,964.9 630.8,975.4 631.0,992.8 631.2,1000.4 631.5,1006.3 631.8,1011.4 632.0,1015.8 632.2,1019.8 632.5,1023.3 632.8,1026.5 633.0,1029.4 633.2,1032.0 633.5,1034.3 633.8,1036.3 634.0,1038.0 634.2,1039.4 634.5,1040.6 634.8,1041.6 635.0,1042.2 635.2,1042.6 635.5,1042.8 635.8,1042.7 636.0,1042.3 636.2,1041.7 636.5,1040.8 636.8,1039.7 637.0,1038.3 637.2,1036.6 637.5,1034.6 637.8,1032.4 638.0,1029.9 638.2,1027.1 638.5,1024.0 638.8,1020.5 639.0,1016.7 639.2,1012.4 639.5,1007.5 639.8,1001.8 640.0,994.8 640.2,983.1 640.5,966.9 640.8,959.7 641.0,953.9 641.2,949.0 641.5,944.6 641.8,940.8 642.0,937.3 642.2,934.2 642.5,931.4 642.8,928.9 643.0,926.7 643.2,924.8 643.5,923.2 643.8,921.8 644.0,920.7 644.2,919.8 644.5,919.2 644.8,918.9 645.0,918.8 645.2,919.0 645.5,919.4 645.8,920.0 646.0,921.0 646.2,922.2 646.5,923.6 646.8,925.3 647.0,927.3 647.2,929.5 647.5,932.0 647.8,934.8 648.0,937.9 648.2,941.4 648.5,945.2 648.8,949.5 649.0,954.3 649.2,959.9 649.5,967.0 649.8,982.1 650.0,994.2 650.2,1001.0 650.5,1006.5 650.8,1011.2 651.0,1015.3 651.2,1019.0 651.5,1022.3 651.8,1025.3 652.0,1027.9 652.2,1030.3 652.5,1032.3 652.8,1034.1 653.0,1035.7 653.2,1036.9 653.5,1038.0 653.8,1038.7 654.0,1039.2 654.2,1039.5 654.5,1039.5 654.8,1039.3 655.0,1038.9 655.2,1038.2 655.5,1037.2 655.8,1036.0 656.0,1034.6 656.2,1032.9 656.5,1030.9 656.8,1028.7 657.0,1026.3 657.2,1023.6 657.5,1020.5 657.8,1017.2 658.0,1013.5 658.2,1009.3 658.5,1004.6 658.8,999.1 659.0,992.1 659.2,976.3 659.5,966.3 659.8,960.0 660.0,954.8 660.2,950.4 660.5,946.6 660.8,943.1 661.0,940.0 661.2,937.3 661.5,934.8 661.8,932.6 662.0,930.7 662.2,929.1 662.5,927.6 662.8,926.5 663.0,925.6 663.2,924.9 663.5,924.4 663.8,924.2 664.0,924.2 664.2,924.5 664.5,925.0 664.8,925.7 665.0,926.6 665.2,927.8 665.5,929.2 665.8,930.8 666.0,932.7 666.2,934.8 666.5,937.2 666.8,939.8 667.0,942.7 667.2,945.9 667.5,949.4 667.8,953.4 668.0,957.9 668.2,963.2 668.5,970.0 668.8,985.5 669.0,994.2 669.2,1000.0 669.5,1004.7 669.8,1008.8 670.0,1012.4 670.2,1015.6 670.5,1018.5 670.8,1021.0 671.0,1023.3 671.2,1025.3 671.5,1027.1 671.8,1028.6 672.0,1029.9 672.2,1031.0 672.5,1031.8 672.8,1032.4 673.0,1032.8 673.2,1033.0 673.5,1033.0 673.8,1032.7 674.0,1032.2 674.2,1031.5 674.5,1030.6 674.8,1029.5 675.0,1028.2 675.2,1026.6 675.5,1024.8 675.8,1022.8 676.0,1020.6 676.2,1018.1 676.5,1015.4 676.8,1012.3 677.0,1009.0 677.2,1005.2 677.5,1000.9 677.8,995.8 678.0,989.2 678.2,974.2 678.5,966.6 678.8,961.3 679.0,956.9 679.2,953.1 679.5,949.8 679.8,946.8 680.0,944.1 680.2,941.7 680.5,939.6 680.8,937.7 681.0,936.0 681.2,934.6 681.5,933.4 681.8,932.4 682.0,931.6 682.2,931.0 682.5,930.7 682.8,930.5 683.0,930.6 683.2,930.8 683.5,931.3 683.8,931.9 684.0,932.8 684.2,933.8 684.5,935.1 684.8,936.6 685.0,938.3 685.2,940.2 685.5,942.3 685.8,944.7 686.0,947.3 686.2,950.2 686.5,953.4 686.8,957.0 687.0,961.2 687.2,966.1 687.5,972.7 687.8,987.1 688.0,993.9 688.2,998.9 688.5,1003.0 688.8,1006.6 689.0,1009.8 689.2,1012.6 689.5,1015.2 689.8,1017.4 690.0,1019.5 690.2,1021.3 690.5,1022.9 690.8,1024.3 691.0,1025.4 691.2,1026.4 691.5,1027.1 691.8,1027.7 692.0,1028.1 692.2,1028.2 692.5,1028.2 692.8,1028.0 693.0,1027.6 693.2,1026.9 693.5,1026.1 693.8,1025.1 694.0,1023.9 694.2,1022.5 694.5,1020.8 694.8,1019.0 695.0,1016.9 695.2,1014.6 695.5,1012.1 695.8,1009.3 696.0,1006.1 696.2,1002.6 696.5,998.5 696.8,993.6 697.0,986.9 697.2,972.8 697.5,966.4 697.8,961.6 698.0,957.7 698.2,954.2 698.5,951.1 698.8,948.3 699.0,945.8 699.2,943.6 699.5,941.5 699.8,939.8 700.0,938.2 700.2,936.8 700.5,935.6 700.8,934.7 701.0,933.9 701.2,933.3 701.5,932.9 701.8,932.7 702.0,932.8 702.2,933.0 702.5,933.4 702.8,934.0 703.0,934.8 703.2,935.7 703.5,936.9 703.8,938.3 704.0,940.0 704.2,941.8 704.5,943.8 704.8,946.1 705.0,948.7 705.2,951.5 705.5,954.7 705.8,958.3 706.0,962.4 706.2,967.5 706.5,974.7 706.8,988.7 707.0,994.9 707.2,999.6 707.5,1003.6 707.8,1007.1 708.0,1010.3 708.2,1013.1 708.5,1015.6 708.8,1017.9 709.0,1020.0 709.2,1021.8 709.5,1023.5 709.8,1024.9 710.0,1026.1 710.2,1027.1 710.5,1027.9 710.8,1028.6 711.0,1029.0 711.2,1029.2 711.5,1029.2 711.8,1029.0 712.0,1028.6 712.2,1028.0 712.5,1027.3 712.8,1026.3 713.0,1025.0 713.2,1023.6 713.5,1022.0 713.8,1020.1 714.0,1018.0 714.2,1015.6 714.5,1012.9 714.8,1010.0 715.0,1006.6 715.2,1002.9 715.5,998.5 715.8,993.1 716.0,985.0 716.2,970.7 716.5,964.4 716.8,959.5 717.0,955.4 717.2,951.7 717.5,948.4 717.8,945.4 718.0,942.7 718.2,940.3 718.5,938.1 718.8,936.1 719.0,934.4 719.2,932.8 719.5,931.5 719.8,930.4 720.0,929.5 720.2,928.8 720.5,928.4 720.8,928.1 721.0,928.0 721.2,928.2 721.5,928.6 721.8,929.2 722.0,930.0 722.2,931.1 722.5,932.4 722.8,933.9 723.0,935.6 723.2,937.7 723.5,939.9 723.8,942.5 724.0,945.4 724.2,948.6 724.5,952.2 724.8,956.3 725.0,961.1 725.2,967.1 725.5,976.7 725.8,991.6 726.0,998.2 726.2,1003.4 726.5,1007.9 726.8,1011.9 727.0,1015.5 727.2,1018.7 727.5,1021.7 727.8,1024.3 728.0,1026.7 728.2,1028.9 728.5,1030.8 728.8,1032.5 729.0,1034.0 729.2,1035.2 729.5,1036.2 729.8,1037.0 730.0,1037.5 730.2,1037.8 730.5,1037.9 730.8,1037.7 731.0,1037.3 731.2,1036.6 731.5,1035.7 731.8,1034.6 732.0,1033.1 732.2,1031.5 732.5,1029.5 732.8,1027.3 733.0,1024.7 733.2,1021.9 733.5,1018.7 733.8,1015.1 734.0,1011.0 734.2,1006.4 734.5,1001.0 734.8,994.1 735.0,981.9 735.2,966.9 735.5,959.7 735.8,954.0 736.0,949.1 736.2,944.7 736.5,940.7 736.8,937.1 737.0,933.9 737.2,930.9 737.5,928.2 737.8,925.8 738.0,923.7 738.2,921.8 738.5,920.2 738.8,918.9 739.0,917.8 739.2,916.9 739.5,916.3 739.8,916.0 740.0,916.0 740.2,916.2 740.5,916.7 740.8,917.4 741.0,918.5 741.2,919.8 741.5,921.4 741.8,923.3 742.0,925.5 742.2,928.0 742.5,930.9 742.8,934.1 743.0,937.7 743.2,941.8 743.5,946.4 743.8,951.7 744.0,957.9 744.2,965.8 744.5,983.6 744.8,996.3 745.0,1004.0 745.2,1010.3 745.5,1015.8 745.8,1020.6 746.0,1025.0 746.2,1029.0 746.5,1032.6 746.8,1035.9 747.0,1038.8 747.2,1041.5 747.5,1043.8 747.8,1045.9 748.0,1047.7 748.2,1049.2 748.5,1050.4 748.8,1051.3 749.0,1051.9 749.2,1052.2 749.5,1052.2 749.8,1051.9 750.0,1051.3 750.2,1050.5 750.5,1049.3 750.8,1047.7 751.0,1045.9 751.2,1043.7 751.5,1041.2 751.8,1038.3 752.0,1035.1 752.2,1031.4 752.5,1027.3 752.8,1022.7 753.0,1017.5 753.2,1011.6 753.5,1004.5 753.8,995.4 754.0,974.2 754.2,961.5 754.5,953.1 754.8,946.2 755.0,940.2 755.2,934.9 755.5,930.1 755.8,925.7 756.0,921.7 756.2,918.1 756.5,914.9 756.8,912.0 757.0,909.4 757.2,907.2 757.5,905.3 757.8,903.7 758.0,902.4 758.2,901.5 758.5,900.9 758.8,900.6 759.0,900.6 759.2,901.0 759.5,901.7 759.8,902.7 760.0,904.1 760.2,905.8 760.5,907.9 760.8,910.4 761.0,913.2 761.2,916.5 761.5,920.1 761.8,924.2 762.0,928.8 762.2,934.0 762.5,939.8 762.8,946.5 763.0,954.5 763.2,965.0 763.5,989.1 763.8,1002.2 764.0,1011.2 764.2,1018.6 764.5,1025.2 764.8,1031.0 765.0,1036.2 765.2,1041.0 765.5,1045.3 765.8,1049.2 766.0,1052.7 766.2,1055.8 766.5,1058.6 766.8,1061.0 767.0,1063.1 767.2,1064.8 767.5,1066.2 767.8,1067.2 768.0,1067.8 768.2,1068.1 768.5,1068.0 768.8,1067.5 769.0,1066.7 769.2,1065.5 769.5,1064.0 769.8,1062.0 770.0,1059.7 770.2,1056.9 770.5,1053.8 770.8,1050.1 771.0,1046.1 771.2,1041.5 771.5,1036.4 771.8,1030.6 772.0,1024.1 772.2,1016.6 772.5,1007.7 772.8,995.7 773.0,968.6 773.2,955.1 773.5,945.4 773.8,937.3 774.0,930.2 774.2,923.9 774.5,918.2 774.8,913.0 775.0,908.3 775.2,904.0 775.5,900.2 775.8,896.8 776.0,893.8 776.2,891.1 776.5,888.9 776.8,887.1 777.0,885.6 777.2,884.6 777.5,883.9 777.8,883.7 778.0,883.8 778.2,884.3 778.5,885.3 778.8,886.7 779.0,888.4 779.2,890.7 779.5,893.3 779.8,896.4 780.0,899.9 780.2,904.0 780.5,908.5 780.8,913.6 781.0,919.3 781.2,925.7 781.5,933.0 781.8,941.4 782.0,951.5 782.2,965.2 782.5,995.1 782.8,1009.1 783.0,1019.5 783.2,1028.2 783.5,1035.8 783.8,1042.6 784.0,1048.7 784.2,1054.2 784.5,1059.2 784.8,1063.8 785.0,1067.8 785.2,1071.4 785.5,1074.6 785.8,1077.3 786.0,1079.6 786.2,1081.5 786.5,1082.9 786.8,1083.9 787.0,1084.5 787.2,1084.6 787.5,1084.3 787.8,1083.6 788.0,1082.4 788.2,1080.8 788.5,1078.7 788.8,1076.2 789.0,1073.2 789.2,1069.8 789.5,1065.8 789.8,1061.4 790.0,1056.4 790.2,1050.8 790.5,1044.6 790.8,1037.6 791.0,1029.7 791.2,1020.6 791.5,1009.6 791.8,994.2 792.0,962.7 792.2,948.6 792.5,937.9 792.8,928.9 793.0,921.0 793.2,914.0 793.5,907.7 793.8,902.0 794.0,896.8 794.2,892.2 794.5,888.1 794.8,884.5 795.0,881.3 795.2,878.6 795.5,876.3 795.8,874.5 796.0,873.2 796.2,872.3 796.5,871.8 796.8,871.8 797.0,872.3 797.2,873.2 797.5,874.5 797.8,876.3 798.0,878.6 798.2,881.3 798.5,884.6 798.8,888.3 799.0,892.5 799.2,897.2 799.5,902.5 799.8,908.3 800.0,914.9 800.2,922.2 800.5,930.4 800.8,940.0 801.0,951.6 801.2,968.4 801.5,1000.1 801.8,1014.0 802.0,1024.7 802.2,1033.7 802.5,1041.6 802.8,1048.7 803.0,1055.0 803.2,1060.7 803.5,1065.8 803.8,1070.4 804.0,1074.5 804.2,1078.1 804.5,1081.2 804.8,1083.8 805.0,1086.0 805.2,1087.7 805.5,1088.9 805.8,1089.7 806.0,1090.0 806.2,1089.9 806.5,1089.4 806.8,1088.3 807.0,1086.8 807.2,1084.9 807.5,1082.5 807.8,1079.6 808.0,1076.3 808.2,1072.4 808.5,1068.1 808.8,1063.3 809.0,1057.9 809.2,1051.9 809.5,1045.2 809.8,1037.7 810.0,1029.3 810.2,1019.6 810.5,1007.6 810.8,989.5 811.0,958.8 811.2,945.4 811.5,935.0 811.8,926.2 812.0,918.4 812.2,911.5 812.5,905.3 812.8,899.7 813.0,894.8 813.2,890.3 813.5,886.3 813.8,882.9 814.0,879.9 814.2,877.4 814.5,875.4 814.8,873.8 815.0,872.6 815.2,872.0 815.5,871.7 815.8,871.9 816.0,872.6 816.2,873.7 816.5,875.3 816.8,877.3 817.0,879.8 817.2,882.7 817.5,886.1 817.8,890.0 818.0,894.4 818.2,899.2 818.5,904.7 818.8,910.7 819.0,917.3 819.2,924.7 819.5,933.1 819.8,942.9 820.0,954.9 820.2,974.6 820.5,1003.0 820.8,1015.6 821.0,1025.6 821.2,1034.0 821.5,1041.5 821.8,1048.1 822.0,1054.0 822.2,1059.3 822.5,1064.1 822.8,1068.3 823.0,1072.1 823.2,1075.3 823.5,1078.1 823.8,1080.5 824.0,1082.3 824.2,1083.8 824.5,1084.8 824.8,1085.3 825.0,1085.4 825.2,1085.1 825.5,1084.4 825.8,1083.2 826.0,1081.5 826.2,1079.5 826.5,1077.0 826.8,1074.0 827.0,1070.7 827.2,1066.8 827.5,1062.5 827.8,1057.7 828.0,1052.4 828.2,1046.5 828.5,1040.0 828.8,1032.8 829.0,1024.6 829.2,1015.0 829.5,1003.1 829.8,978.7 830.0,957.2 830.2,945.6 830.5,936.3 830.8,928.4 831.0,921.4 831.2,915.3 831.5,909.8 831.8,904.9 832.0,900.5 832.2,896.7 832.5,893.3 832.8,890.4 833.0,887.9 833.2,885.9 833.5,884.3 833.8,883.2 834.0,882.4 834.2,882.1 834.5,882.2 834.8,882.7 835.0,883.7 835.2,885.0 835.5,886.7 835.8,888.9" fill="none" stroke="#2626ff" stroke-width="1.7" stroke-linejoin="round"/>
<path d="M331.6,833v8M331.6,1133v-8M457.1,833v8M457.1,1133v-8M581.7,833v8M581.7,1133v-8M708.6,833v8M708.6,1133v-8M206,880.2h8M206,931.0h8M206,980.1h8M206,1029.3h8M206,1078.4h8M836,880.4h-8M836,929.9h-8M836,980.3h-8M836,1030.8h-8M836,1079.7h-8" stroke="#3a3530" stroke-width="2" fill="none"/>
<rect x="206" y="833" width="630" height="300" fill="none" stroke="#77726a" stroke-width="2.2"/>
<g font-family="Liberation Sans, Arial, sans-serif" font-size="20.5" fill="#222222">
<text transform="translate(209.0,769.4) scale(0.95,1)" text-anchor="middle" font-size="21.5">0</text>
<text transform="translate(334.0,769.4) scale(0.95,1)" text-anchor="middle" font-size="21.5">200</text>
<text transform="translate(460.2,769.4) scale(0.95,1)" text-anchor="middle" font-size="21.5">400</text>
<text transform="translate(583.5,769.4) scale(0.95,1)" text-anchor="middle" font-size="21.5">600</text>
<text transform="translate(712.0,769.4) scale(0.95,1)" text-anchor="middle" font-size="21.5">800</text>
<text transform="translate(836.5,769.4) scale(0.95,1)" text-anchor="middle" font-size="21.5">1.000</text>
<text x="201.6" y="442.9" text-anchor="end">3</text>
<text x="201.6" y="504.7" text-anchor="end">2</text>
<text x="201.6" y="565.6" text-anchor="end">1</text>
<text x="201.6" y="625.6" text-anchor="end">0</text>
<text x="201.6" y="687.3" text-anchor="end">−1</text>
<text x="201.6" y="747.9" text-anchor="end">−2</text>
<text transform="translate(206.5,1157.6) scale(0.95,1)" text-anchor="middle" font-size="21.5">0</text>
<text transform="translate(333.3,1157.6) scale(0.95,1)" text-anchor="middle" font-size="21.5">200</text>
<text transform="translate(457.6,1157.6) scale(0.95,1)" text-anchor="middle" font-size="21.5">400</text>
<text transform="translate(580.3,1157.6) scale(0.95,1)" text-anchor="middle" font-size="21.5">600</text>
<text transform="translate(708.6,1157.6) scale(0.95,1)" text-anchor="middle" font-size="21.5">800</text>
<text transform="translate(834.4,1157.6) scale(0.95,1)" text-anchor="middle" font-size="21.5">1.000</text>
<text x="198.6" y="835.1" text-anchor="end">6</text>
<text x="198.6" y="885.0" text-anchor="end">4</text>
<text x="198.6" y="934.6" text-anchor="end">2</text>
<text x="198.6" y="984.7" text-anchor="end">0</text>
<text x="198.6" y="1034.6" text-anchor="end">−2</text>
<text x="198.6" y="1084.1" text-anchor="end">−4</text>
<text x="198.6" y="1134.7" text-anchor="end">−6</text>
</g>
</svg>
<div class="pn" style="top:69.83px;left:1046px">1</div>
<div class="tt" style="top:142.13px;left:508px;letter-spacing:0px">Amplitud Modulada</div>
<div class="ul" style="left:508px;top:165.3px;width:214px;height:1.5px"></div>
<div class="s" style="top:196.12px;left:171.00px;letter-spacing:-0.032px">Amplitud Modulada. (<span class="r">AM</span>). En la modulación de amplitud (<span class="r">AM</span>) la característica</div>
<div class="s" style="top:252.42px;left:144.00px;letter-spacing:-0.106px">sometida a variación es la amplitud de la onda. Por tanto esta se define como el proceso</div>
<div class="s" style="top:307.82px;left:143.70px;letter-spacing:-0.07px">mediante el cual se varía la amplitud de la <span class="b">onda</span> portadora de radiofrecuencia (RF) en</div>
<div class="s" style="top:363.22px;left:144.50px;letter-spacing:-0.08px">función de la variación de la <span class="r">amplitud</span> de la señal de audiofrecuencia (AF).</div>
<div class="hd" style="top:1196.83px;left:171.4px;letter-spacing:0.03px">Portadora de radiofrecuencia y señal de audiofrecuencia</div>
<div class="ul" style="left:171.4px;top:1220px;width:584.1px;height:1.5px"></div>
<div class="m" style="top:1252.23px;left:171.40px;letter-spacing:0px">El proceso de modulación ocurre en un circuito del transmisor llamado modulador. La</div>
<div class="m" style="top:1307.63px;left:145.00px;letter-spacing:0px">señal de RF tiene una amplitud constante y alta frecuencia, mientras que la señal de AF tiene</div>
<div class="m" style="top:1363.33px;left:145.00px;letter-spacing:0px">una frecuencia baja y no es una señal constante. La unión de estas dos señales en el</div>
<div class="m" style="top:1419.03px;left:145.00px;letter-spacing:0px">modulador de amplitud origina la señal modulada de AM en la cual se puede observar como</div>
<div class="m" style="top:1474.33px;left:145.00px;letter-spacing:-0.04px">la amplitud varía en función de la señal de audio.</div>
</div>
</body></html>
